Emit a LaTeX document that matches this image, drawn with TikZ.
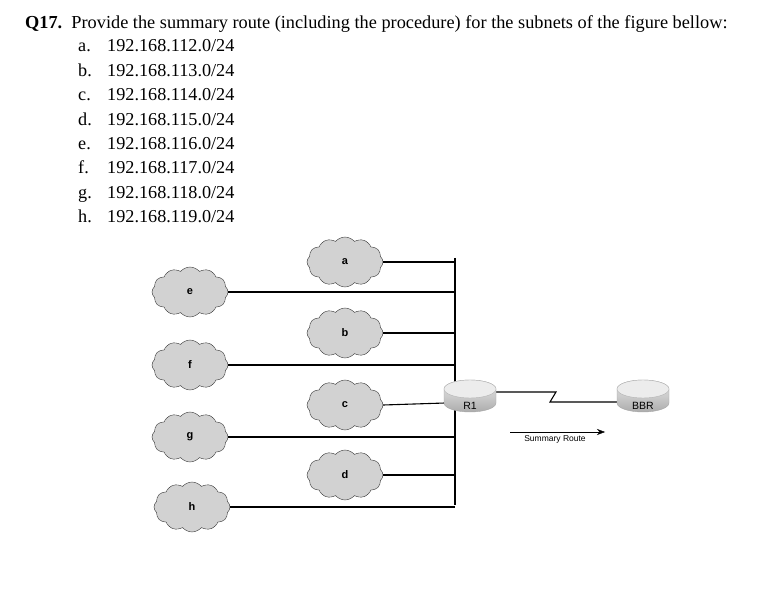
\documentclass[tikz,border=0pt]{standalone}
\usepackage{fontspec}
\setmainfont{Liberation Serif}
\setsansfont{Liberation Sans}
\usetikzlibrary{shapes.symbols,arrows.meta}
\begin{document}
\begin{tikzpicture}[x=1pt,y=-1pt,
  cloudn/.style={cloud, cloud puffs=12, cloud puff arc=100, aspect=1.5, draw=black!80, fill=gray!35, minimum width=76pt, minimum height=50pt, font=\sffamily\bfseries\fontsize{11}{13}\selectfont, inner sep=0pt},
  wire/.style={line width=1.1pt},
  lst/.style={anchor=base west, font=\fontsize{18.2}{20}\selectfont},
  routerbody/.style={draw=gray!70, top color=gray!25, bottom color=gray!65, middle color=gray!40}]
\useasboundingbox (0,0) rectangle (764,591);
\node[anchor=base west, font=\fontsize{18.3}{20}\selectfont, inner sep=0pt] (title) at (25,29) {\textbf{Q17.}\ \ Provide the summary route (including the procedure) for the subnets of the figure bellow:};
\foreach \l/\n [count=\i from 0] in {a/112,b/113,c/114,d/115,e/116,f/117,g/118,h/119}{
  \node[lst, inner sep=0pt] (l\l) at (78,{52+\i*24.4}) {\l.};
  \node[lst, inner sep=0pt] (n\l) at (107,{52+\i*24.4}) {192.168.\n.0/24};
}
% clouds
\node[cloudn] (a) at (345,262) {a};
\node[cloudn] (b) at (345,333) {b};
\node[cloudn] (c) at (345,405) {c};
\node[cloudn] (d) at (345,475) {d};
\node[cloudn] (e) at (190,292) {e};
\node[cloudn] (f) at (190,365) {f};
\node[cloudn] (g) at (190,437) {g};
\node[cloudn] (h) at (192,507) {h};
\coordinate (R1L) at (445,403);
\coordinate (R1R) at (495,392);
\coordinate (BBRL) at (618,402);
% bus
\coordinate (top) at (455,258);
\coordinate (bot) at (455,505);
\draw[wire] (top) -- (bot);
\draw[wire] (a.east) -- (a.east -| top);
\draw[wire] (b.east) -- (b.east -| top);
\draw[wire] (c.east) -- (R1L);
\draw[wire] (d.east) -- (d.east -| top);
\draw[wire] (e.east) -- (e.east -| top);
\draw[wire] (f.east) -- (f.east -| top);
\draw[wire] (g.east) -- (g.east -| top);
\draw[wire] (h.east) -- (h.east -| top);
% serial
\draw[wire] (R1R) -- (556,392) -- (550,402) -- (BBRL);
% router R1
\path[routerbody] (444,389) -- (444,403) arc[start angle=180,end angle=0,x radius=26,y radius=9] -- (496,389) arc[start angle=0,end angle=-180,x radius=26,y radius=9] -- cycle;
\path[draw=gray!60, fill=gray!15] (470,389) ellipse[x radius=26,y radius=9];
\node[font=\sffamily\fontsize{10.5}{12}\selectfont] (r1) at (470,406) {R1};
% router BBR
\path[routerbody] (617,389) -- (617,403) arc[start angle=180,end angle=0,x radius=26,y radius=9] -- (669,389) arc[start angle=0,end angle=-180,x radius=26,y radius=9] -- cycle;
\path[draw=gray!60, fill=gray!15] (643,389) ellipse[x radius=26,y radius=9];
\node[font=\sffamily\fontsize{10.5}{12}\selectfont] (bbr) at (643,406) {BBR};
% summary arrow
\coordinate (s1) at (510,432);
\coordinate (s2) at (605,432);
\draw[-{Stealth[length=8pt]}] (s1) -- (s2);
\node[font=\sffamily\fontsize{8.5}{10}\selectfont] (sr) at (555,439) {Summary Route};
\end{tikzpicture}
\end{document}
